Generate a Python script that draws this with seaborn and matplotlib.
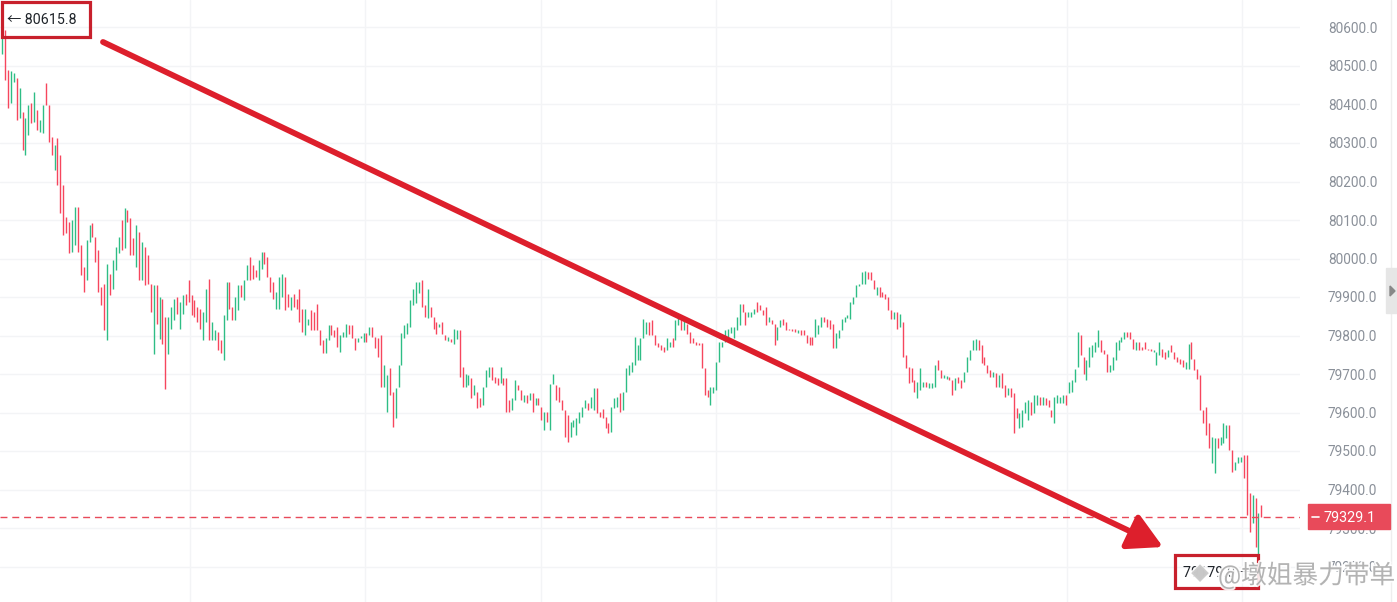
import numpy as np
import pandas as pd
import matplotlib
matplotlib.use("Agg")
import matplotlib.pyplot as plt
import matplotlib.patheffects as pe
from matplotlib.patches import Rectangle, Polygon
import seaborn as sns

# 1m candles (open, close)
opens = [
    80530, 80594, 80490, 80403, 80459, 80468, 80364, 80381, 80269, 80321,
    80403, 80355, 80386, 80329, 80325, 80455, 80399, 80316, 80230, 80312,
    80269, 80191, 80109, 80096, 80018, 80035, 80134, 80035, 79979, 79944,
    80043, 80093, 80057, 80022, 79927, 79935, 79788, 79961, 79922, 79970,
    80013, 80100, 80026, 80126, 80104, 80052, 79979, 80070, 79944, 80031,
    80009, 79935, 79753, 79931, 79792, 79896, 79849, 79753, 79818, 79840,
    79901, 79818, 79857, 79909, 79944, 79905, 79892, 79875, 79870, 79788,
    79836, 79948, 79788, 79788, 79810, 79788, 79736, 79840, 79940, 79875,
    79840, 79866, 79931, 79892, 79944, 80005, 79983, 79970, 79944, 79974,
    80018, 80005, 79953, 79940, 79870, 79870, 79901, 79953, 79909, 79866,
    79909, 79896, 79922, 79870, 79801, 79827, 79866, 79862, 79883, 79814,
    79788, 79754, 79788, 79827, 79814, 79823, 79758, 79797, 79797, 79827,
    79827, 79793, 79784, 79793, 79784, 79806, 79801, 79823, 79797, 79793,
    79801, 79667, 79602, 79715, 79654, 79585, 79667, 79723, 79793, 79805,
    79823, 79879, 79884, 79910, 79944, 79879, 79845, 79875, 79849, 79836,
    79823, 79836, 79801, 79786, 79792, 79779, 79792, 79814, 79719, 79667,
    79671, 79689, 79645, 79654, 79637, 79619, 79667, 79693, 79719, 79693,
    79689, 79676, 79689, 79689, 79632, 79606, 79632, 79671, 79658, 79628,
    79645, 79632, 79650, 79619, 79637, 79615, 79554, 79602, 79554, 79675,
    79671, 79667, 79632, 79606, 79593, 79537, 79563, 79541, 79572, 79589,
    79611, 79624, 79611, 79606, 79663, 79602, 79610, 79589, 79572, 79550,
    79611, 79615, 79650, 79606, 79654, 79697, 79706, 79723, 79737, 79736,
    79793, 79805, 79836, 79840, 79801, 79780, 79775, 79771, 79762, 79771,
    79793, 79788, 79827, 79844, 79814, 79831, 79810, 79793, 79784, 79780,
    79780, 79715, 79658, 79619, 79650, 79658, 79732, 79771, 79784, 79797,
    79806, 79793, 79814, 79827, 79883, 79862, 79849, 79849, 79857, 79888,
    79879, 79866, 79875, 79836, 79840, 79831, 79788, 79823, 79844, 79836,
    79818, 79816, 79816, 79807, 79814, 79814, 79801, 79797, 79795, 79797,
    79805, 79823, 79849, 79844, 79840, 79831, 79767, 79793, 79814, 79836,
    79845, 79844, 79883, 79901, 79928, 79935, 79935, 79966, 79966, 79944,
    79905, 79927, 79914, 79909, 79901, 79866, 79844, 79862, 79823, 79836,
    79749, 79719, 79715, 79684, 79637, 79658, 79667, 79680, 79663, 79663,
    79667, 79736, 79710, 79689, 79686, 79693, 79684, 79658, 79693, 79684,
    79680, 79706, 79736, 79762, 79762, 79788, 79775, 79745, 79723, 79710,
    79693, 79702, 79667, 79702, 79671, 79645, 79663, 79650, 79611, 79559,
    79563, 79598, 79580, 79628, 79598, 79619, 79641, 79619, 79637, 79632,
    79606, 79572, 79624, 79624, 79624, 79645, 79650, 79654, 79680, 79719,
    79801, 79745, 79684, 79719, 79745, 79758, 79771, 79788, 79762, 79753,
    79706, 79710, 79736, 79762, 79784, 79792, 79810, 79810, 79792, 79762,
    79784, 79771, 79784, 79766, 79764, 79758, 79723, 79749, 79766, 79758,
    79745, 79775, 79758, 79745, 79740, 79736, 79714, 79714, 79784, 79740,
    79714, 79697, 79606, 79615, 79572, 79468, 79442, 79533, 79515, 79520,
    79533, 79567, 79502, 79450, 79468, 79472, 79490, 79490, 79390, 79312,
    79377, 79179, 79360,
]
closes = [
    80615, 80464, 80390, 80488, 80481, 80360, 80442, 80282, 80364, 80399,
    80351, 80433, 80334, 80360, 80399, 80399, 80303, 80269, 80295, 80191,
    80117, 80061, 80065, 80013, 80100, 80134, 80018, 79957, 79914, 80048,
    80087, 80057, 79992, 79914, 79879, 79814, 79987, 79905, 79996, 80031,
    80057, 80022, 80130, 80096, 80009, 80009, 80087, 79944, 80043, 79931,
    79935, 79862, 79931, 79831, 79901, 79779, 79662, 79849, 79875, 79896,
    79857, 79888, 79905, 79879, 79888, 79853, 79849, 79836, 79818, 79862,
    79922, 79788, 79836, 79814, 79762, 79754, 79853, 79940, 79870, 79840,
    79901, 79931, 79901, 79944, 79983, 79944, 79948, 79953, 79996, 80018,
    79987, 79953, 79914, 79896, 79914, 79953, 79961, 79866, 79875, 79901,
    79875, 79870, 79836, 79810, 79870, 79844, 79814, 79814, 79814, 79775,
    79754, 79793, 79827, 79801, 79797, 79771, 79801, 79810, 79831, 79805,
    79793, 79762, 79793, 79799, 79806, 79784, 79823, 79797, 79767, 79745,
    79667, 79723, 79697, 79645, 79563, 79663, 79723, 79806, 79827, 79832,
    79892, 79922, 79940, 79940, 79875, 79849, 79922, 79849, 79818, 79805,
    79831, 79805, 79788, 79797, 79784, 79818, 79814, 79693, 79667, 79701,
    79697, 79637, 79671, 79611, 79615, 79667, 79710, 79719, 79684, 79676,
    79671, 79719, 79671, 79602, 79602, 79637, 79684, 79658, 79632, 79645,
    79624, 79650, 79602, 79637, 79619, 79580, 79602, 79576, 79675, 79701,
    79632, 79628, 79606, 79537, 79524, 79576, 79580, 79585, 79602, 79615,
    79632, 79606, 79641, 79663, 79598, 79589, 79585, 79559, 79546, 79615,
    79637, 79641, 79602, 79654, 79715, 79723, 79732, 79797, 79775, 79793,
    79844, 79836, 79801, 79801, 79775, 79771, 79762, 79758, 79793, 79784,
    79771, 79840, 79853, 79814, 79840, 79805, 79780, 79780, 79775, 79775,
    79715, 79645, 79641, 79667, 79667, 79732, 79784, 79784, 79814, 79818,
    79823, 79823, 79849, 79883, 79862, 79827, 79862, 79862, 79870, 79862,
    79866, 79853, 79827, 79849, 79831, 79775, 79823, 79840, 79827, 79814,
    79814, 79812, 79810, 79814, 79801, 79801, 79780, 79775, 79775, 79844,
    79827, 79849, 79836, 79823, 79818, 79767, 79806, 79814, 79844, 79849,
    79853, 79888, 79901, 79931, 79935, 79966, 79968, 79948, 79944, 79922,
    79927, 79901, 79901, 79896, 79866, 79844, 79862, 79818, 79857, 79745,
    79715, 79676, 79680, 79654, 79680, 79715, 79680, 79667, 79676, 79676,
    79723, 79710, 79689, 79697, 79695, 79684, 79645, 79689, 79676, 79663,
    79706, 79745, 79762, 79788, 79792, 79762, 79728, 79723, 79702, 79693,
    79706, 79667, 79697, 79663, 79641, 79663, 79641, 79546, 79585, 79598,
    79606, 79628, 79632, 79593, 79645, 79645, 79619, 79641, 79619, 79615,
    79589, 79641, 79645, 79641, 79645, 79619, 79680, 79684, 79714, 79810,
    79749, 79701, 79736, 79771, 79775, 79784, 79814, 79758, 79753, 79706,
    79723, 79745, 79784, 79788, 79797, 79810, 79797, 79792, 79766, 79784,
    79762, 79762, 79766, 79762, 79760, 79762, 79758, 79784, 79745, 79740,
    79762, 79758, 79740, 79732, 79727, 79719, 79732, 79779, 79740, 79710,
    79688, 79606, 79572, 79541, 79507, 79537, 79533, 79507, 79537, 79572,
    79567, 79502, 79446, 79472, 79485, 79485, 79429, 79334, 79290, 79386,
    79251, 79338, 79329,
]
price_ticks = [79200, 79300, 79400, 79500, 79600, 79700, 79800, 79900,
               80000, 80100, 80200, 80300, 80400, 80500, 80600]
last_price = 79329.1
high_label = "\u2190 80615.8"
low_label = "79179.0 \u2192"
watermark = "@墩姐暴力带单"

UP = "#2EBD85"
DOWN = "#F6465D"
W, H = 1397, 602

df = pd.DataFrame({"open": opens, "close": closes})
df["i"] = np.arange(len(df))
df["color"] = np.where(df["close"] >= df["open"], UP, DOWN)

sns.set_theme(style="white")
plt.rcParams["font.family"] = ["Roboto", "Noto Sans CJK SC", "DejaVu Sans"]

fig = plt.figure(figsize=(W / 100, H / 100), dpi=100)
fig.patch.set_facecolor("white")
ax = fig.add_axes([0, 0, 1300 / W, 1])


def fx(px):
    return px / W


def fy(py):
    return 1 - py / H


# price scale: 80600 at y=27.5px, 0.385 px per 1
ax.set_ylim(80600 - (H - 27.5) / 0.385, 80600 + 27.5 / 0.385)
ax.set_xlim((0 - 2.1) / 2.915, (1300 - 2.1) / 2.915)

# grid
for p in price_ticks:
    ax.axhline(p, color="#F3F4F6", lw=1, zorder=0)
for gx in np.arange(64.5, 440, 60.15):
    ax.axvline(gx, color="#F3F4F6", lw=1, zorder=0)

ax.vlines(df["i"], df["open"], df["close"], colors=df["color"], lw=1.0, zorder=2)

# last price line
ax.axhline(last_price, color="#E84A5A", lw=1.0, dashes=(5, 3.5), zorder=3)

ax.yaxis.tick_right()
ax.set_yticks(price_ticks)
ax.set_yticklabels([f"{p:.1f}" for p in price_ticks])
ax.tick_params(axis="y", length=0, pad=20, labelsize=9.8, labelcolor="#8A9099")
ax.set_xticks([])
for s in ax.spines.values():
    s.set_visible(False)
ax.set_facecolor("white")

# right-side price tag
fig.add_artist(Rectangle((fx(1308), fy(529)), fx(82), 25 / H, color="#E84A5A", zorder=5))
fig.add_artist(plt.Line2D([fx(1312), fx(1319)], [fy(517), fy(517)], color="white", lw=1.2, zorder=6))
fig.text(fx(1324), fy(517.5), f"{last_price:.1f}", color="white", fontsize=10.4,
         va="center", ha="left", zorder=6)

# right border and collapse tab
fig.add_artist(plt.Line2D([fx(1391), fx(1391)], [0, 1], color="#EEEEEE", lw=1))
fig.add_artist(Rectangle((fx(1386), fy(313)), fx(11), 45 / H, color="#E6E6E6", zorder=5))
fig.add_artist(Polygon([[fx(1390), fy(286)], [fx(1390), fy(296)], [fx(1395), fy(291)]],
                       closed=True, color="#888888", zorder=6))

# high / low callouts
box_col = "#C8202C"
fig.add_artist(Rectangle((fx(2), fy(37)), fx(88), 35 / H, fill=False,
                         edgecolor=box_col, lw=2.3, zorder=7))
fig.text(fx(7), fy(19.5), high_label, fontsize=10.3, color="#1E2329", va="center", ha="left", zorder=7)
fig.add_artist(Rectangle((fx(1175), fy(588)), fx(83), 33 / H, fill=False,
                         edgecolor=box_col, lw=2.3, zorder=7))
fig.text(fx(1183), fy(573), low_label, fontsize=10.3, color="#1E2329", va="center", ha="left", zorder=7)

# big trend arrow
ax.annotate("", xy=(1163, H - 547), xycoords="figure pixels",
            xytext=(103, H - 42), textcoords="figure pixels",
            arrowprops=dict(arrowstyle="-|>,head_length=0.55,head_width=0.3",
                            mutation_scale=38, lw=4.2, color="#DD1F2C",
                            shrinkA=0, shrinkB=0, capstyle="round"),
            zorder=8)

# watermark
fig.text(fx(1218), fy(575), watermark, fontsize=18.5, color="#ACACAC", alpha=0.9,
         va="center", ha="left", zorder=9,
         path_effects=[pe.withStroke(linewidth=2.5, foreground="white")])
fig.text(fx(1200), fy(575), "\u25C6", fontsize=13, color="#C8C8C8", alpha=0.9,
         va="center", ha="center", zorder=9,
         path_effects=[pe.withStroke(linewidth=2, foreground="white")])

fig.savefig("out.png", dpi=100, facecolor="white")
